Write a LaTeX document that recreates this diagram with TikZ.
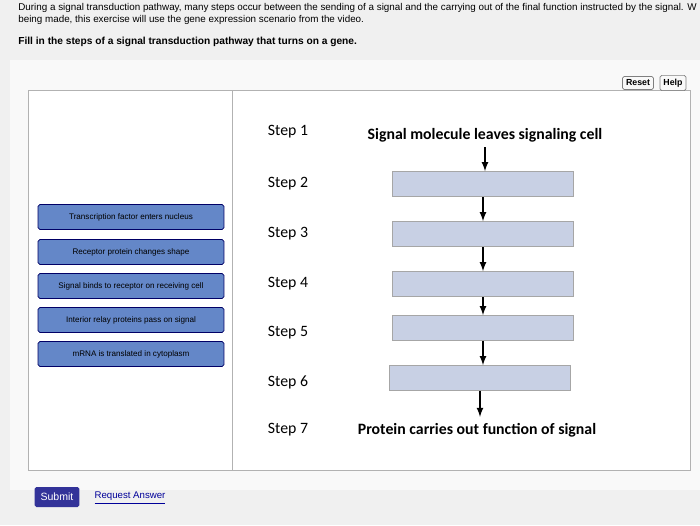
\documentclass[tikz,border=0pt]{standalone}
\usepackage{fontspec}
\setmainfont{Liberation Sans}
\newfontfamily\stepfont{Carlito}
\definecolor{chip}{RGB}{100,135,200}
\definecolor{slotc}{RGB}{200,208,228}
\begin{document}
\begin{tikzpicture}[x=0.02cm,y=-0.02cm,
  blue/.style={draw=blue!40!black,fill=chip,rounded corners=1pt,minimum width=3.72cm,minimum height=0.5cm,inner sep=1pt,font=\fontsize{4.6}{5.5}\selectfont},
  slot/.style={draw=gray!70,fill=slotc,minimum width=3.62cm,minimum height=0.5cm},
  steplbl/.style={font=\stepfont\fontsize{9}{11}\selectfont},
  arr/.style={-latex,thick}]
\fill[gray!12] (0,0) rectangle (700,525);
\useasboundingbox (0,0) rectangle (700,525);
\node[anchor=north west,align=left,font=\fontsize{5.6}{7}\selectfont,inner sep=0] (intro) at (18,3) {During a signal transduction pathway, many steps occur between the sending of a signal and the carrying out of the final function instructed by the signal. W\\being made, this exercise will use the gene expression scenario from the video.};
\node[anchor=north west,font=\bfseries\fontsize{5.8}{7}\selectfont,inner sep=0] (task) at (18,37) {Fill in the steps of a signal transduction pathway that turns on a gene.};
\fill[white!95!gray] (10,60) rectangle (700,490);
\draw[gray!60,fill=white] (28,90) rectangle (232,470);
\draw[gray!60,fill=white] (232,90) rectangle (690,470);
\node[draw=gray,rounded corners=1pt,font=\bfseries\fontsize{5}{6}\selectfont,inner sep=2pt] (reset) at (638,83) {Reset};
\node[draw=gray,rounded corners=1pt,font=\bfseries\fontsize{5}{6}\selectfont,inner sep=2pt] (help) at (673,83) {Help};
\node[blue] (b1) at (131,217) {Transcription factor enters nucleus};
\node[blue] (b2) at (131,252) {Receptor protein changes shape};
\node[blue] (b3) at (131,286) {Signal binds to receptor on receiving cell};
\node[blue] (b4) at (131,320) {Interior relay proteins pass on signal};
\node[blue] (b5) at (131,354) {mRNA is translated in cytoplasm};
\foreach \i/\y in {1/132,2/184,3/234,4/284,5/333,6/382,7/430}
  \node[steplbl] (s\i) at (288,\y) {Step \i};
\node[steplbl,font=\stepfont\bfseries\fontsize{9}{11}\selectfont] (top) at (485,135) {Signal molecule leaves signaling cell};
\node[slot] (g1) at (483,184) {};
\node[slot] (g2) at (483,234) {};
\node[slot] (g3) at (483,284) {};
\node[slot] (g4) at (483,328) {};
\node[slot] (g5) at (480,378) {};
\node[steplbl,font=\stepfont\bfseries\fontsize{9}{11}\selectfont] (bot) at (477,430) {Protein carries out function of signal};
\coordinate (t0) at (485,147);
\draw[arr] (t0) -- (t0 |- g1.north);
\draw[arr] (g1) -- (g2);
\draw[arr] (g2) -- (g3);
\draw[arr] (g3) -- (g4);
\draw[arr] (g4.south) -- (g4.south |- g5.north);
\draw[arr] (g5.south) -- (g5.south |- bot.north);
\node[fill=blue!50!black!80,text=white,rounded corners=1pt,font=\fontsize{6}{7}\selectfont,minimum width=0.9cm,minimum height=0.4cm] (submit) at (57,497) {Submit};
\node[text=blue!60!black,font=\fontsize{5.5}{7}\selectfont] (req) at (130,498) {\underline{Request Answer}};
\end{tikzpicture}
\end{document}
